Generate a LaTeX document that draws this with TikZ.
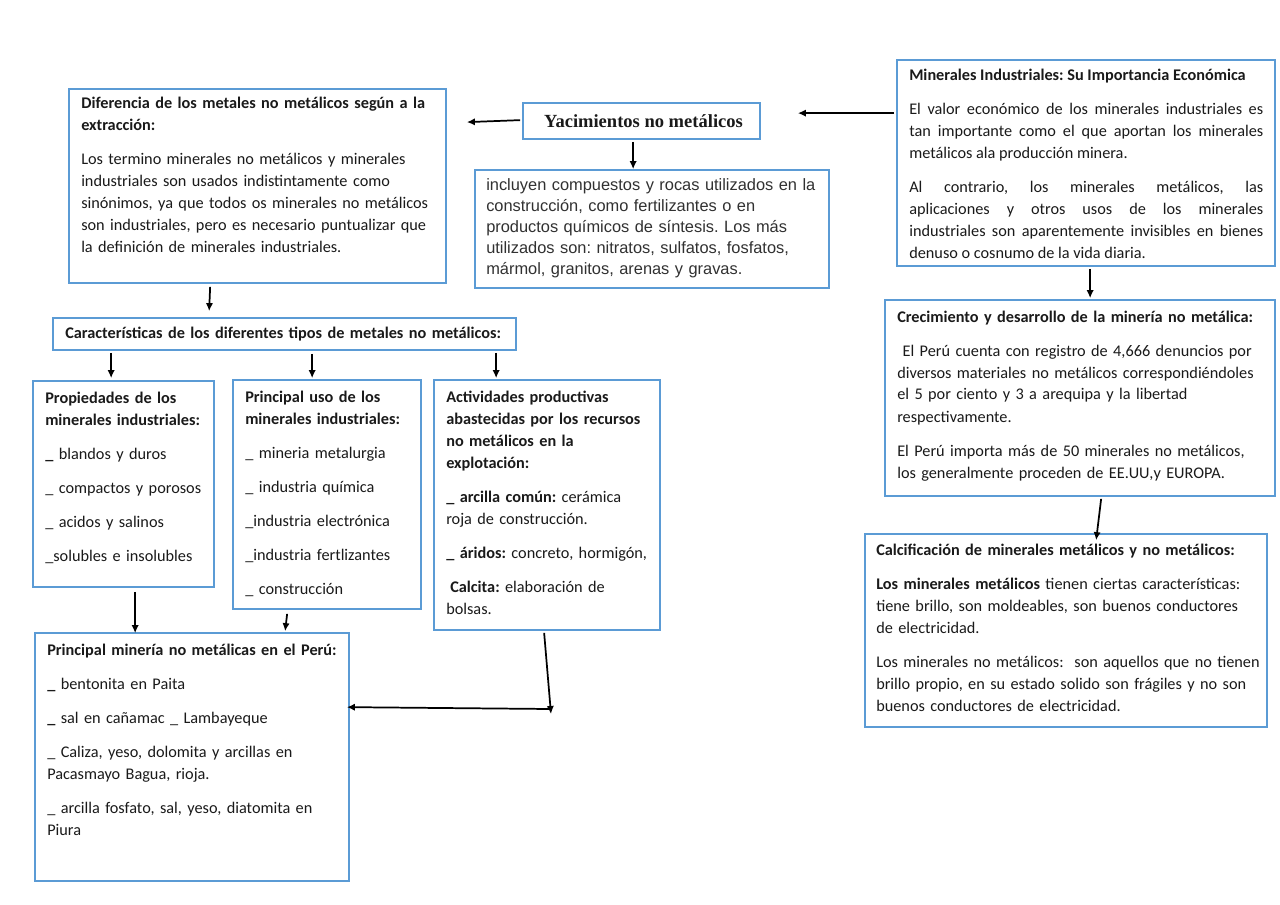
\documentclass[tikz,border=0pt]{standalone}
\usepackage{fontspec}
\setmainfont{Carlito}
\newfontfamily\timesf{Liberation Serif}
\newfontfamily\arialf{Liberation Sans}
\usetikzlibrary{fit,arrows.meta}
\definecolor{boxblue}{HTML}{5B9BD5}
\definecolor{ink}{HTML}{1A1A1A}
\frenchspacing
\tikzset{
  box/.style={draw=boxblue, line width=1.3pt, inner sep=0pt},
  txt/.style={anchor=base west, inner sep=0pt, align=left, text=ink, font=\fontsize{12.2}{16.5}\selectfont},
  arr/.style={draw=black, line width=1.3pt, -{Latex[length=6pt,width=5.5pt]}},
}
\begin{document}
\begin{tikzpicture}[x=0.75pt,y=-0.75pt]
\fill[white] (0,0) rectangle (1280,905);
\useasboundingbox (0,0) rectangle (1280,905);

% boxes
\node[box, fit={(69,89) (446,283)}] (dif) {};
\node[box, fit={(523,103) (760,139)}] (yac) {};
\node[box, fit={(475,170) (829,288)}] (inc) {};
\node[box, fit={(897,60) (1275,266)}] (mi) {};
\node[box, fit={(885,300) (1275,496)}] (cre) {};
\node[box, fit={(865,534) (1267,727)}] (cal) {};
\node[box, fit={(53,318) (516,350)}] (car) {};
\node[box, fit={(33,381) (214,587)}] (pro) {};
\node[box, fit={(233,380) (421,609)}] (uso) {};
\node[box, fit={(434,380) (660,630)}] (act) {};
\node[box, fit={(35,633) (349,881)}] (pm) {};

% texts
\node[txt, text width=290pt] (difT) at (81,109) {{\bfseries Diferencia de los metales no metálicos según a la\\ extracción:}\\[9pt]
Los termino minerales no metálicos y minerales\\
industriales son usados indistintamente como\\
sinónimos, ya que todos os minerales no metálicos\\
son industriales, pero es necesario puntualizar que\\
la definición de minerales industriales.};

\node[inner sep=0pt, text=ink, font=\timesf\bfseries\fontsize{13.9}{16}\selectfont] (yacT) at ([xshift=1.5pt]yac.center) {Yacimientos no metálicos};

\node[txt, text width=280pt, text=ink!90, font=\arialf\fontsize{12.3}{15.6}\selectfont] (incT) at (486,191) {incluyen compuestos y rocas utilizados en la\\ construcción, como fertilizantes o en\\ productos químicos de síntesis. Los más\\ utilizados son: nitratos, sulfatos, fosfatos,\\ mármol, granitos, arenas y gravas.};

\node[txt, text width=265.5pt, align=justify] (miT) at (909,81) {{\bfseries Minerales Industriales: Su Importancia Económica}\\[9pt]
El valor económico de los minerales industriales es\linebreak tan importante como el que aportan los minerales\linebreak metálicos ala producción minera.\\[9pt]
Al contrario, los minerales metálicos, las\linebreak aplicaciones y otros usos de los minerales\linebreak industriales son aparentemente invisibles en bienes\linebreak denuso o cosnumo de la vida diaria.};

\node[txt, text width=300pt] (creT) at (897,322) {{\bfseries Crecimiento y desarrollo de la minería no metálica:}\\[9pt]
\hspace*{4pt}El Perú cuenta con registro de 4,666 denuncios por\\
diversos materiales no metálicos correspondiéndoles\\
el 5 por ciento y 3 a arequipa y la libertad\\
respectivamente.\\[9pt]
El Perú importa más de 50 minerales no metálicos,\\
los generalmente proceden de EE.UU,y EUROPA.};

\node[txt, text width=310pt] (calT) at (876,555) {{\bfseries Calcificación de minerales metálicos y no metálicos:}\\[9pt]
{\bfseries Los minerales metálicos} tienen ciertas características:\\
tiene brillo, son moldeables, son buenos conductores\\
de electricidad.\\[9pt]
Los minerales no metálicos:\ \ son aquellos que no tienen\\
brillo propio, en su estado solido son frágiles y no son\\
buenos conductores de electricidad.};

\node[txt, text width=360pt] (carT) at (65,339) {{\bfseries Características de los diferentes tipos de metales no metálicos:}};

\node[txt, text width=150pt] (proT) at (45,403) {{\bfseries Propiedades de los\\ minerales industriales:}\\[9pt]
{\bfseries\_} blandos y duros\\[9pt]
\_ compactos y porosos\\[9pt]
\_ acidos y salinos\\[9pt]
\_solubles e insolubles};

\node[txt, text width=150pt] (usoT) at (245,402) {{\bfseries Principal uso de los\\ minerales industriales:}\\[9pt]
\_ mineria metalurgia\\[9pt]
\_ industria química\\[9pt]
\_industria electrónica\\[9pt]
\_industria fertlizantes\\[9pt]
\_ construcción};

\node[txt, text width=180pt] (actT) at (446,402) {{\bfseries Actividades productivas\\ abastecidas por los recursos\\ no metálicos en la\\ explotación:}\\[9pt]
{\bfseries\_ arcilla común:} cerámica\\ roja de construcción.\\[9pt]
{\bfseries\_ áridos:} concreto, hormigón,\\[9pt]
\hspace*{3pt}{\bfseries Calcita:} elaboración de\\ bolsas.};

\node[txt, text width=260pt] (pmT) at (47,655) {{\bfseries Principal minería no metálicas en el Perú:}\\[9pt]
{\bfseries\_} bentonita en Paita\\[9pt]
{\bfseries\_} sal en cañamac \_ Lambayeque\\[9pt]
\_ Caliza, yeso, dolomita y arcillas en\\ Pacasmayo Bagua, rioja.\\[9pt]
\_ arcilla fosfato, sal, yeso, diatomita en\\ Piura};

% connectors
\draw[arr] ([shift={(-2,18)}]yac.north west) -- ([shift={(20,34)}]dif.north east);
\draw[arr] ([shift={(-2,54)}]mi.north west) -- ([shift={(37,11)}]yac.north east);
\draw[arr] ([shift={(111,2)}]yac.south west) -- ([shift={(159,0)}]inc.north west);
\draw[arr] ([shift={(142,3)}]dif.south west) -- ([shift={(157,-6)}]car.north west);
\draw[arr] ([shift={(59,2)}]car.south west) -- ([shift={(79,-2)}]pro.north west);
\draw[arr] ([shift={(260,3)}]car.south west) -- ([shift={(80,-1)}]uso.north west);
\draw[arr] ([shift={(444,2)}]car.south west) -- ([shift={(63,-1)}]act.north west);
\draw[arr] ([shift={(103,4)}]pro.south west) -- ([shift={(101,1)}]pm.north west);
\draw[arr] ([shift={(55,4)}]uso.south west) -- ([shift={(251,-1)}]pm.north west);
\coordinate (j) at (551,714);
\draw[arr] ([shift={(111,2)}]act.south west) -- (j);
\draw[arr] ([shift={(-1,-5)}]j) -- ([shift={(-3,75)}]pm.north east);
\draw[arr] ([shift={(194,2)}]mi.south west) -- ([shift={(206,-1)}]cre.north west);
\draw[arr] ([shift={(217,2)}]cre.south west) -- ([shift={(232,7)}]cal.north west);
\end{tikzpicture}
\end{document}
